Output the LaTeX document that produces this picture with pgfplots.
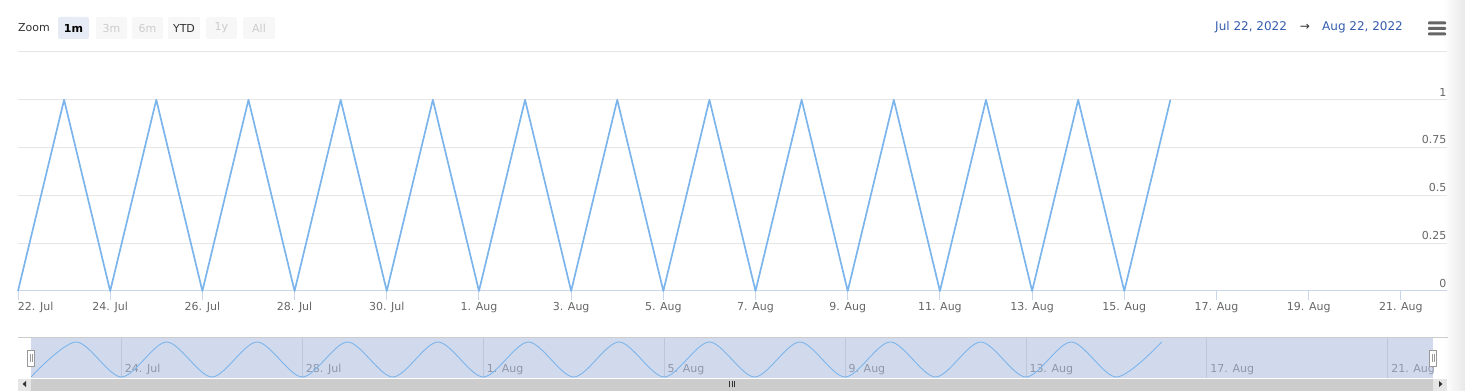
\documentclass[border=0pt]{standalone}
\usepackage{fontspec}
\setmainfont{DejaVu Sans}
\usepackage{pgfplots}
\pgfplotsset{compat=1.18}
\definecolor{serie}{HTML}{7CB5EC}
\definecolor{axcol}{HTML}{CCD6EB}
\definecolor{gridc}{HTML}{E6E6E6}
\definecolor{lab}{HTML}{666666}
\definecolor{mask}{HTML}{D1DAED}
\definecolor{navgrid}{HTML}{BCC6DC}
\definecolor{navlab}{HTML}{8E97AA}
\definecolor{dateblue}{HTML}{335CAD}
\definecolor{btn}{HTML}{F7F7F7}
\definecolor{btnsel}{HTML}{E6EBF5}
\definecolor{dis}{HTML}{CCCCCC}
\definecolor{dark}{HTML}{333333}
\definecolor{sbtn}{HTML}{E6E6E6}
\newcommand{\f}{\fontsize{11}{13}\selectfont}
\begin{document}
\begin{tikzpicture}[x=1pt,y=1pt]
\path[use as bounding box] (0,0) rectangle (1465,391);
\shade[left color=white, right color=black!9] (1444,0) rectangle (1465,391);

% range selector
\node[anchor=west, text=dark, font=\f, inner sep=0] at (18,363) {Zoom};
\fill[btnsel, rounded corners=2pt] (58,352) rectangle (89,374);
\node[text=black, font=\f\bfseries, inner sep=0] at (73.5,363) {1m};
\fill[btn, rounded corners=2pt] (96,352) rectangle (127,374);
\node[text=dis, font=\f, inner sep=0] at (111.5,363) {3m};
\fill[btn, rounded corners=2pt] (132,352) rectangle (163,374);
\node[text=dis, font=\f, inner sep=0] at (147.5,363) {6m};
\fill[btn, rounded corners=2pt] (168,352) rectangle (200,374);
\node[text=dark, font=\f, inner sep=0] at (184,363) {YTD};
\fill[btn, rounded corners=2pt] (206,352) rectangle (237,374);
\node[text=dis, font=\f, inner sep=0] at (221.5,363) {1y};
\fill[btn, rounded corners=2pt] (243,352) rectangle (275,374);
\node[text=dis, font=\f, inner sep=0] at (259,363) {All};

% date inputs
\node[anchor=west, text=dateblue, font=\fontsize{12}{14}\selectfont, inner sep=0] at (1215,364) {Jul 22, 2022};
\node[text=dark, font=\fontsize{12}{14}\selectfont, inner sep=0] at (1305,364) {→};
\node[anchor=west, text=dateblue, font=\fontsize{12}{14}\selectfont, inner sep=0] at (1322,364) {Aug 22, 2022};

% menu
\foreach \yy in {368,362.5,357} {
  \fill[lab, rounded corners=0.8pt] (1428,\yy-1.5) rectangle (1446,\yy+1.5);
}

% main chart
\begin{axis}[
  at={(18pt,100pt)}, anchor=south west,
  scale only axis, width=1429pt, height=239pt,
  xmin=0, xmax=31, ymin=0, ymax=1.25,
  axis x line*=bottom, axis y line*=right,
  x axis line style={draw=axcol, line width=1pt},
  y axis line style={draw=none},
  tick align=outside, major tick length=9pt,
  xtick={0,2,...,30},
  xticklabels={\hphantom{22. Jul}22. Jul,24. Jul,26. Jul,28. Jul,30. Jul,1. Aug,3. Aug,5. Aug,7. Aug,9. Aug,11. Aug,13. Aug,15. Aug,17. Aug,19. Aug,21. Aug},
  xtick style={draw=axcol, line width=1pt},
  ytick={0,0.25,0.5,0.75,1,1.25},
  yticklabels={0,0.25,0.5,0.75,1,},
  ytick style={draw=none},
  ymajorgrids, grid style={draw=gridc, line width=1pt},
  xticklabel style={font=\f, text=lab, anchor=north, yshift=1.5pt},
  yticklabel style={font=\f, text=lab, anchor=south east, xshift=-6pt},
  clip=false,
]
\addplot[serie, line width=1.7pt, line join=round] coordinates {
(0,0)(1,1)(2,0)(3,1)(4,0)(5,1)(6,0)(7,1)(8,0)(9,1)(10,0)(11,1)(12,0)
(13,1)(14,0)(15,1)(16,0)(17,1)(18,0)(19,1)(20,0)(21,1)(22,0)(23,1)(24,0)(25,1)};
\end{axis}

% navigator
\draw[dis, line width=1pt] (18,53) -- (1448,53);
\begin{axis}[
  at={(31pt,13pt)}, anchor=south west,
  scale only axis, width=1402pt, height=40pt,
  xmin=0, xmax=31, ymin=-0.0286, ymax=1.114,
  axis line style={draw=none},
  axis background/.style={fill=mask},
  tick style={draw=none},
  xtick={2,6,...,30},
  xticklabels={24. Jul,28. Jul,1. Aug,5. Aug,9. Aug,13. Aug,17. Aug,21. Aug},
  ytick=\empty,
  xmajorgrids, grid style={draw=navgrid, line width=0.8pt},
  xticklabel style={font=\f, text=navlab, anchor=south west},
]
\addplot[serie, line width=0.9pt, smooth, tension=0.5] coordinates {
(0,0)(1,1)(2,0)(3,1)(4,0)(5,1)(6,0)(7,1)(8,0)(9,1)(10,0)(11,1)(12,0)
(13,1)(14,0)(15,1)(16,0)(17,1)(18,0)(19,1)(20,0)(21,1)(22,0)(23,1)(24,0)(25,1)};
\end{axis}

% handles
\foreach \hx in {31,1433} {
  \filldraw[fill=white, draw=black!40, line width=0.8pt] (\hx-3.5,25) rectangle (\hx+3.5,41);
  \draw[black!40, line width=0.7pt] (\hx-1,29) -- (\hx-1,37) (\hx+1,29) -- (\hx+1,37);
}

% scrollbar
\fill[dis] (31,0) rectangle (1433,12);
\fill[sbtn] (18,0) rectangle (31,12);
\fill[sbtn] (1433,0) rectangle (1447,12);
\fill[dark] (22.5,7) -- (26,10) -- (26,4) -- cycle;
\fill[dark] (1442.5,7) -- (1439,10) -- (1439,4) -- cycle;
\draw[dark, line width=0.8pt] (729.5,3.5) -- (729.5,10) (732,3.5) -- (732,10) (734.5,3.5) -- (734.5,10);
\end{tikzpicture}
\end{document}
